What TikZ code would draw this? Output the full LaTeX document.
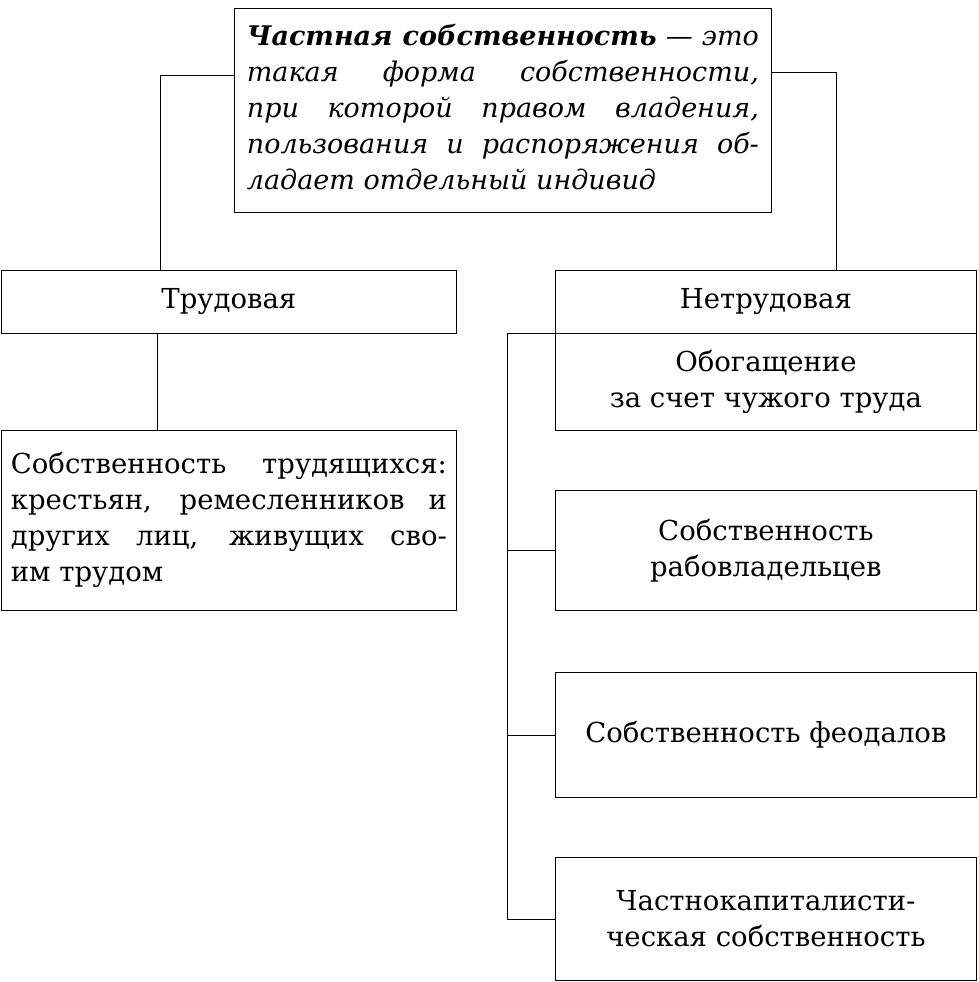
\documentclass[tikz,border=0pt]{standalone}
\usepackage{fontspec}
\setmainfont{DejaVu Serif}
\newcommand{\fullline}[2]{\makebox[#1][s]{#2}}
\begin{document}
\begin{tikzpicture}[
    x=1pt,y=-1pt,
    box/.style={draw,thick,inner sep=0pt,font=\fontsize{27.5}{36}\selectfont},
    link/.style={thick}
  ]
  \useasboundingbox (0,0) rectangle (978,982);
  % Top definition
  \node[box,minimum width=537,minimum height=204,anchor=north west,
        font=\itshape\fontsize{27}{36}\selectfont] (def) at (234,8) {%
    \begin{tabular}{@{}l@{}}
    \fullline{512pt}{\textbf{Частная собственность} — это}\\
    \fullline{512pt}{такая форма собственности,}\\
    \fullline{512pt}{при которой правом владения,}\\
    \fullline{512pt}{пользования и распоряжения об-}\\
    ладает отдельный индивид
    \end{tabular}};
  % Two kinds
  \node[box,minimum width=455,minimum height=63,anchor=north west] (labour) at (1,270) {Трудовая};
  \node[box,minimum width=421,minimum height=63,anchor=north west] (nonlabour) at (555,270) {Нетрудовая};
  % Left branch
  \node[box,minimum width=455,minimum height=180,anchor=north west] (workers) at (1,430) {%
    \begin{tabular}{@{}l@{}}
    \fullline{436pt}{Собственность трудящихся:}\\
    \fullline{436pt}{крестьян, ремесленников и}\\
    \fullline{436pt}{других лиц, живущих сво-}\\
    им трудом
    \end{tabular}};
  % Right branch
  \node[box,minimum width=421,minimum height=97,anchor=north west,align=center] (gain) at (555,333) {Обогащение\\за счет чужого труда};
  \node[box,minimum width=421,minimum height=120,anchor=north west,align=center] (slave) at (555,490) {Собственность\\рабовладельцев};
  \node[box,minimum width=421,minimum height=125,anchor=north west,align=center] (feudal) at (555,672) {Собственность феодалов};
  \node[box,minimum width=421,minimum height=123,anchor=north west,align=center] (capital) at (555,857) {Частнокапиталисти-\\ческая собственность};
  % Connectors
  \coordinate (tl) at (160,75);
  \coordinate (tr) at (836,72);
  \draw[link] (def.west |- tl) -- (tl) -- (tl |- labour.north);
  \draw[link] (def.east |- tr) -- (tr) -- (tr |- nonlabour.north);
  \draw[link] (157,333) -- (157,430);
  \coordinate (rail) at (507,333);
  \draw[link] (gain.north west) -- (rail) -- (rail |- capital.west) -- (capital.west);
  \draw[link] (rail |- slave.west) -- (slave.west);
  \draw[link] (rail |- feudal.west) -- (feudal.west);
\end{tikzpicture}
\end{document}
